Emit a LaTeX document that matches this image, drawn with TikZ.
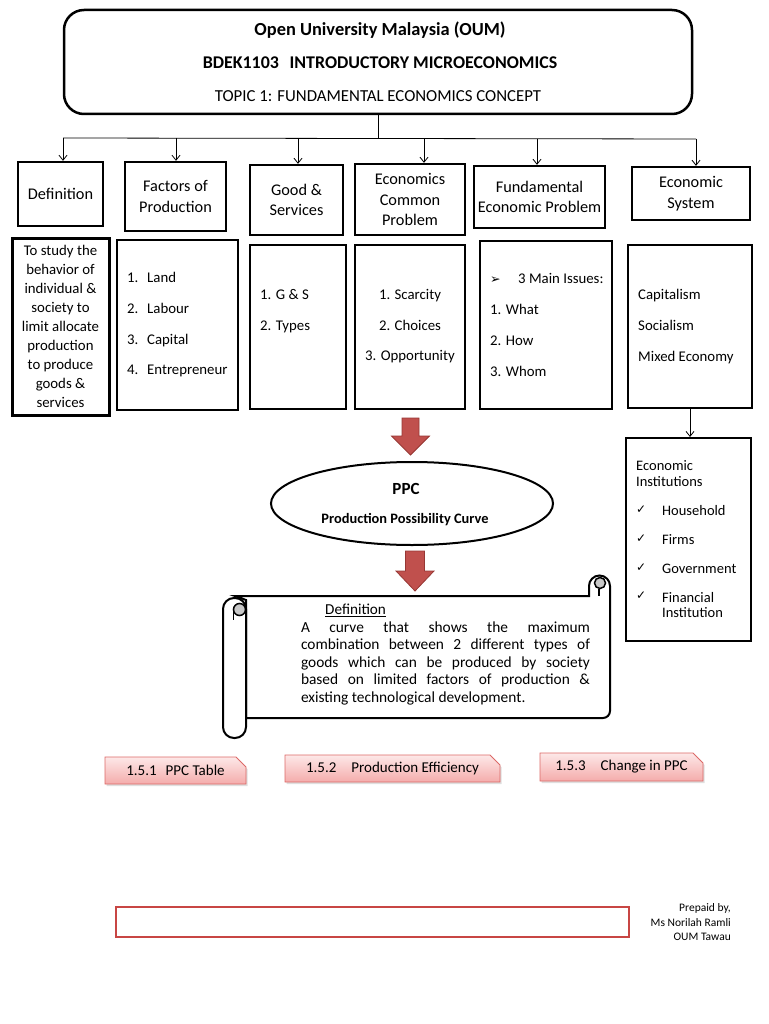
\documentclass[tikz,border=0pt]{standalone}
\usepackage{fontspec}
\setmainfont{Carlito}
\newfontfamily\dejavu{DejaVu Sans}
\usetikzlibrary{arrows.meta,shapes.misc,shapes.geometric,shadows,calc}
\definecolor{arrred}{RGB}{192,80,77}
\definecolor{arrdark}{RGB}{150,55,52}
\definecolor{btnline}{RGB}{220,105,103}
\definecolor{btntop}{RGB}{253,232,232}
\definecolor{btnbot}{RGB}{244,172,171}
\definecolor{redline}{RGB}{200,70,68}
\definecolor{rollgray}{RGB}{200,200,200}
\begin{document}
\begin{tikzpicture}[x=1pt,y=-1pt,
  hbox/.style={draw, line width=2.3pt, inner sep=0pt, align=center, font=\fontsize{16.3}{20.5}\selectfont},
  cbox/.style={draw, line width=2pt, inner sep=0pt},
  txt/.style={inner sep=0pt, align=left},
  arr/.style={draw, line width=0.8pt, -{Straight Barb[length=5pt,width=8pt]}},
  bus/.style={draw, line width=0.8pt},
  btn/.style={chamfered rectangle, chamfered rectangle corners=north east,
    chamfered rectangle xsep=5pt, chamfered rectangle ysep=5pt,
    draw=btnline, line width=0.8pt, top color=btntop, bottom color=btnbot,
    drop shadow={opacity=0.25, shadow xshift=1.5pt, shadow yshift=-2pt},
    inner sep=0pt, font=\fontsize{15}{17}\selectfont},
  blockarr/.style={fill=arrred, draw=arrdark, line width=0.8pt}
]
\useasboundingbox (0,0) rectangle (768,1024);

% title box
\node[draw, rounded corners=20pt, line width=2.5pt, minimum width=628, minimum height=104] (top) at (378,62) {};
\node[inner sep=0pt, font=\bfseries\fontsize{18.4}{20}\selectfont] (t1) at (380,30) {Open University Malaysia (OUM)};
\node[inner sep=0pt, font=\bfseries\fontsize{17.9}{20}\selectfont] (t2) at (380,63) {BDEK1103\hspace{0.6em}INTRODUCTORY MICROECONOMICS};
\node[inner sep=0pt, font=\fontsize{16.8}{20}\selectfont] (t3) at (378,96) {TOPIC 1: FUNDAMENTAL ECONOMICS CONCEPT};

% header boxes
\node[hbox, minimum width=85, minimum height=64] (h1) at (60.5,194) {Definition};
\node[hbox, minimum width=101, minimum height=69] (h2) at (175.5,196.5) {Factors of\\Production};
\node[hbox, minimum width=93, minimum height=70] (h3) at (296.5,200) {Good \&\\Services};
\node[hbox, minimum width=110, minimum height=71] (h4) at (410,199.5) {Economics\\Common\\Problem};
\node[hbox, minimum width=131, minimum height=62] (h5) at (539.5,197) {Fundamental\\Economic Problem};
\node[hbox, minimum width=118, minimum height=53] (h6) at (691,193.5) {Economic\\System};

% bus
\coordinate (bt) at (378,138);
\coordinate (bl) at (63,138);
\coordinate (br) at (696,139);
\draw[bus] (top.south) -- (bt);
\draw[bus] (bl) -- (br);
\coordinate (a1) at (63,138);
\coordinate (a2) at (176,138);
\coordinate (a3) at (298,138.3);
\coordinate (a4) at (424,138.5);
\coordinate (a5) at (537,138.6);
\coordinate (a6) at (696,139);
\draw[arr] (a1) -- (a1 |- h1.north);
\draw[arr] (a2) -- (a2 |- h2.north);
\draw[arr] (a3) -- (a3 |- h3.north);
\draw[arr] (a4) -- (a4 |- h4.north);
\draw[arr] (a5) -- (a5 |- h5.north);
\draw[arr] (a6) -- (a6 |- h6.north);

% content boxes
\node[cbox, line width=3pt, minimum width=97, minimum height=177] (c1) at (60.5,326.5) {};
\node[cbox, minimum width=121, minimum height=170] (c2) at (177.5,325) {};
\node[cbox, minimum width=96, minimum height=164] (c3) at (298,327) {};
\node[cbox, minimum width=110, minimum height=164] (c4) at (410,327) {};
\node[cbox, minimum width=132, minimum height=168] (c5) at (546,325) {};
\node[cbox, minimum width=124, minimum height=163] (c6) at (690,326.5) {};
\node[cbox, minimum width=125, minimum height=203] (c7) at (688.5,539.5) {};
\draw[arr] (c6.south) -- (c6.south |- c7.north);

% content texts
\node[txt, align=center, font=\fontsize{14.8}{18.9}\selectfont] (x1) at (60.5,326.5)
  {To study the\\behavior of\\individual \&\\society to\\limit allocate\\production\\to produce\\goods \&\\services};
\node[txt, anchor=west, font=\fontsize{14.8}{30.7}\selectfont] (x2) at (127,325)
  {\makebox[20pt][l]{1.}Land\\\makebox[20pt][l]{2.}Labour\\\makebox[20pt][l]{3.}Capital\\\makebox[20pt][l]{4.}Entrepreneur};
\node[txt, anchor=west, font=\fontsize{14.8}{31}\selectfont] (x3) at (260,311.5)
  {1. G \& S\\2. Types};
\node[txt, align=center, font=\fontsize{14.8}{30.5}\selectfont] (x4) at (410,326.5)
  {1. Scarcity\\2. Choices\\3. Opportunity};
\node[txt, anchor=west, font=\fontsize{14.8}{30.7}\selectfont] (x5) at (490,325)
  {\makebox[28pt][l]{\dejavu\fontsize{12.5}{12}\selectfont ➢}3 Main Issues:\\1. What\\2. How\\3. Whom};
\node[txt, anchor=west, font=\fontsize{14.8}{31}\selectfont] (x6) at (638,327)
  {Capitalism\\Socialism\\Mixed Economy};

% economic institutions
\node[txt, anchor=west, font=\fontsize{14.5}{16}\selectfont] (x7) at (636,474)
  {Economic\\Institutions};
\node[txt, anchor=west, font=\dejavu\fontsize{12}{28.7}\selectfont] (x8) at (636,553)
  {✓\\✓\\✓\\✓};
\node[txt, anchor=west, font=\fontsize{14.5}{28.7}\selectfont] (x9) at (662,554)
  {Household\\Firms\\Government\\Financial};
\node[txt, anchor=west, font=\fontsize{14.5}{16}\selectfont] (x10) at (662,613) {Institution};

% red block arrow 1
\draw[blockarr] (402,418) -- (419,418) -- (419,436) -- (429.5,436) -- (410.5,455) -- (391.5,436) -- (402,436) -- cycle;

% PPC ellipse
\node[draw, ellipse, line width=2pt, minimum width=282, minimum height=83] (ppc) at (412,503.5) {};
\node[inner sep=0pt, font=\bfseries\fontsize{17}{20}\selectfont] (p1) at (406,489) {PPC};
\node[inner sep=0pt, font=\bfseries\fontsize{14.4}{16}\selectfont] (p2) at (405,520) {Production Possibility Curve};

% red block arrow 2
\draw[blockarr] (405.5,551) -- (424.5,551) -- (424.5,571) -- (434,571) -- (415,591) -- (396,571) -- (405.5,571) -- cycle;

% scroll
\draw[line width=2pt, fill=white] (235,596) -- (589,596) -- (589,586)
  arc[start angle=180, end angle=360, radius=10.5] -- (610,711)
  arc[start angle=0, end angle=90, radius=7] -- (246,718) -- (246,600) -- cycle;
\filldraw[fill=rollgray, line width=1.5pt] (600,583) circle (5.5);
\draw[line width=1.5pt] (599,588.5) -- (599,596);
\draw[line width=2pt, fill=white, rounded corners=11pt] (223,598) rectangle (246,738);
\filldraw[fill=rollgray, line width=1.5pt] (239.5,609.5) circle (6);
\draw[line width=1.5pt] (233.5,609.5) -- (233.5,620);

\node[txt, anchor=west, font=\fontsize{15.2}{17}\selectfont] (d1) at (325,610) {\underline{Definition}};
\node[txt, align=justify, text width=289pt, font=\fontsize{15.4}{17.5}\selectfont] (d2) at (445.5,663)
  {A curve that shows the maximum\linebreak combination between 2 different types of\linebreak goods which can be produced by society\linebreak based on limited factors of production \&\linebreak existing technological development.};

% buttons
\node[btn, minimum width=141, minimum height=27] (b1) at (175.5,770.5) {1.5.1\hspace{0.6em}PPC Table};
\node[btn, minimum width=215, minimum height=27] (b2) at (392.5,768.5) {1.5.2\hspace{1em}Production Efficiency};
\node[btn, minimum width=163, minimum height=28] (b3) at (621.5,767) {1.5.3\hspace{1em}Change in PPC};

% bottom
\node[draw=redline, line width=2pt, minimum width=513, minimum height=30, inner sep=0pt] (rb) at (372.5,922) {};
\node[txt, anchor=east, align=right, font=\fontsize{11.5}{14.5}\selectfont] (prep) at (731,922.5)
  {Prepaid by,\\Ms Norilah Ramli\\OUM Tawau};
\end{tikzpicture}
\end{document}
